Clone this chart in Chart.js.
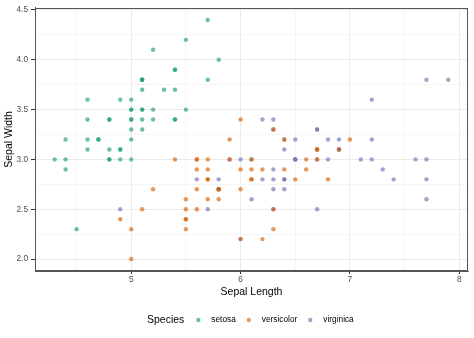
<!DOCTYPE html>
<html><head><meta charset="utf-8">
<script src="https://cdn.jsdelivr.net/npm/chart.js@4/dist/chart.umd.min.js"></script>
<style>html,body{margin:0;padding:0;background:#fff}#wrap{width:474px;height:338px}</style>
</head><body><div id="wrap"><canvas id="c" width="474" height="338"></canvas></div>
<script>
const species = ['setosa', 'versicolor', 'virginica'];
const speciesColors = ['rgba(27,158,119,0.65)', 'rgba(217,95,2,0.65)', 'rgba(117,112,179,0.65)'];
const setosaLength = [5.1,4.9,4.7,4.6,5.0,5.4,4.6,5.0,4.4,4.9,5.4,4.8,4.8,4.3,5.8,5.7,5.4,5.1,5.7,5.1,5.4,5.1,4.6,5.1,4.8,5.0,5.0,5.2,5.2,4.7,4.8,5.4,5.2,5.5,4.9,5.0,5.5,4.9,4.4,5.1,5.0,4.5,4.4,5.0,5.1,4.8,5.1,4.6,5.3,5.0];
const setosaWidth = [3.5,3.0,3.2,3.1,3.6,3.9,3.4,3.4,2.9,3.1,3.7,3.4,3.0,3.0,4.0,4.4,3.9,3.5,3.8,3.8,3.4,3.7,3.6,3.3,3.4,3.0,3.4,3.5,3.4,3.2,3.1,3.4,4.1,4.2,3.1,3.2,3.5,3.6,3.0,3.4,3.5,2.3,3.2,3.5,3.8,3.0,3.8,3.2,3.7,3.3];
const versicolorLength = [7.0,6.4,6.9,5.5,6.5,5.7,6.3,4.9,6.6,5.2,5.0,5.9,6.0,6.1,5.6,6.7,5.6,5.8,6.2,5.6,5.9,6.1,6.3,6.1,6.4,6.6,6.8,6.7,6.0,5.7,5.5,5.5,5.8,6.0,5.4,6.0,6.7,6.3,5.6,5.5,5.5,6.1,5.8,5.0,5.6,5.7,5.7,6.2,5.1,5.7];
const versicolorWidth = [3.2,3.2,3.1,2.3,2.8,2.8,3.3,2.4,2.9,2.7,2.0,3.0,2.2,2.9,2.9,3.1,3.0,2.7,2.2,2.5,3.2,2.8,2.5,2.8,2.9,3.0,2.8,3.0,2.9,2.6,2.4,2.4,2.7,2.7,3.0,3.4,3.1,2.3,3.0,2.5,2.6,3.0,2.6,2.3,2.7,3.0,2.9,2.9,2.5,2.8];
const virginicaLength = [6.3,5.8,7.1,6.3,6.5,7.6,4.9,7.3,6.7,7.2,6.5,6.4,6.8,5.7,5.8,6.4,6.5,7.7,7.7,6.0,6.9,5.6,7.7,6.3,6.7,7.2,6.2,6.1,6.4,7.2,7.4,7.9,6.4,6.3,6.1,7.7,6.3,6.4,6.0,6.9,6.7,6.9,5.8,6.8,6.7,6.7,6.3,6.5,6.2,5.9];
const virginicaWidth = [3.3,2.7,3.0,2.9,3.0,3.0,2.5,2.9,2.5,3.6,3.2,2.7,3.0,2.5,2.8,3.2,3.0,3.8,2.6,2.2,3.2,2.8,2.8,2.7,3.3,3.2,2.8,3.0,2.8,3.0,2.8,3.8,2.8,2.8,2.6,3.0,3.4,3.1,3.0,3.1,3.1,3.1,2.7,3.2,3.3,3.0,2.5,3.0,3.4,3.0];
const xTicks = [4.5,5,5.5,6,6.5,7,7.5,8];
const yTicks = [2,2.25,2.5,2.75,3,3.25,3.5,3.75,4,4.25,4.5];

const lengths = [setosaLength, versicolorLength, virginicaLength];
const widths = [setosaWidth, versicolorWidth, virginicaWidth];
const datasets = species.map((s, i) => ({
  label: s,
  data: lengths[i].map((x, j) => ({x: x, y: widths[i][j]})),
  backgroundColor: speciesColors[i],
  borderWidth: 0,
  pointRadius: 2.2,
  pointHoverRadius: 2.2
}));

const FONT = '"Liberation Sans", Arial, sans-serif';
const isMajorX = v => Math.abs(v - Math.round(v)) < 1e-9;
const isMajorY = v => Math.abs(v * 2 - Math.round(v * 2)) < 1e-9;

const legendPlugin = {
  id: 'ggLegend',
  afterDraw(chart) {
    const ctx = chart.ctx;
    ctx.save();
    ctx.textBaseline = 'middle';
    const y = 320;
    let x = 147;
    ctx.font = '10.5px ' + FONT;
    ctx.fillStyle = '#000';
    ctx.fillText('Species', x, y);
    x += ctx.measureText('Species').width + 14;
    ctx.font = '8.3px ' + FONT;
    species.forEach((s, i) => {
      ctx.fillStyle = speciesColors[i];
      ctx.beginPath();
      ctx.arc(x, y, 2.2, 0, Math.PI * 2);
      ctx.fill();
      x += 13;
      ctx.fillStyle = '#000';
      ctx.fillText(s, x, y);
      x += ctx.measureText(s).width + 13;
    });
    ctx.restore();
  }
};

const framePlugin = {
  id: 'frame',
  afterDatasetsDraw(chart) {
    const {ctx, chartArea: a} = chart;
    ctx.save();
    ctx.strokeStyle = '#555';
    ctx.lineWidth = 1;
    ctx.strokeRect(Math.round(a.left) + 0.5, Math.round(a.top) + 0.5, Math.round(a.right - a.left) - 1, Math.round(a.bottom - a.top) - 1);
    ctx.restore();
  }
};

new Chart(document.getElementById('c'), {
  type: 'scatter',
  data: { datasets },
  plugins: [legendPlugin, framePlugin],
  options: {
    responsive: false,
    animation: false,
    events: [],
    layout: { padding: { left: 0, right: 6, top: 4, bottom: 40 } },
    plugins: { legend: { display: false }, tooltip: { enabled: false } },
    scales: {
      x: {
        type: 'linear', min: 4.12, max: 8.08,
        afterBuildTicks: a => { a.ticks = xTicks.map(v => ({value: v})); },
        afterFit: s => { s.height = 27; },
        border: { display: true, color: '#555', width: 1 },
        grid: {
          color: c => '#EBEBEB',
          lineWidth: c => isMajorX(c.tick.value) ? 1 : 0.5,
          tickColor: c => isMajorX(c.tick.value) ? '#333' : 'rgba(0,0,0,0)',
          tickLength: 3, drawTicks: true
        },
        ticks: {
          autoSkip: false, maxRotation: 0, padding: 1,
          color: '#4D4D4D', font: { family: FONT, size: 8.3 },
          callback: v => isMajorX(v) ? String(Math.round(v)) : ''
        },
        title: { display: true, text: 'Sepal Length', color: '#000', font: { family: FONT, size: 10.5 }, padding: { top: 1, bottom: 0 } }
      },
      y: {
        type: 'linear', min: 1.88, max: 4.52,
        afterBuildTicks: a => { a.ticks = yTicks.map(v => ({value: v})); },
        afterFit: s => { s.width = 35; },
        border: { display: true, color: '#555', width: 1 },
        grid: {
          color: c => '#EBEBEB',
          lineWidth: c => isMajorY(c.tick.value) ? 1 : 0.5,
          tickColor: c => isMajorY(c.tick.value) ? '#333' : 'rgba(0,0,0,0)',
          tickLength: 4, drawTicks: true
        },
        ticks: {
          autoSkip: false, padding: 3,
          color: '#4D4D4D', font: { family: FONT, size: 8.3 },
          callback: v => isMajorY(v) ? v.toFixed(1) : ''
        },
        title: { display: true, text: 'Sepal Width', color: '#000', font: { family: FONT, size: 10.5 }, padding: { top: 3, bottom: 2 } }
      }
    }
  }
});
</script>
</body></html>
